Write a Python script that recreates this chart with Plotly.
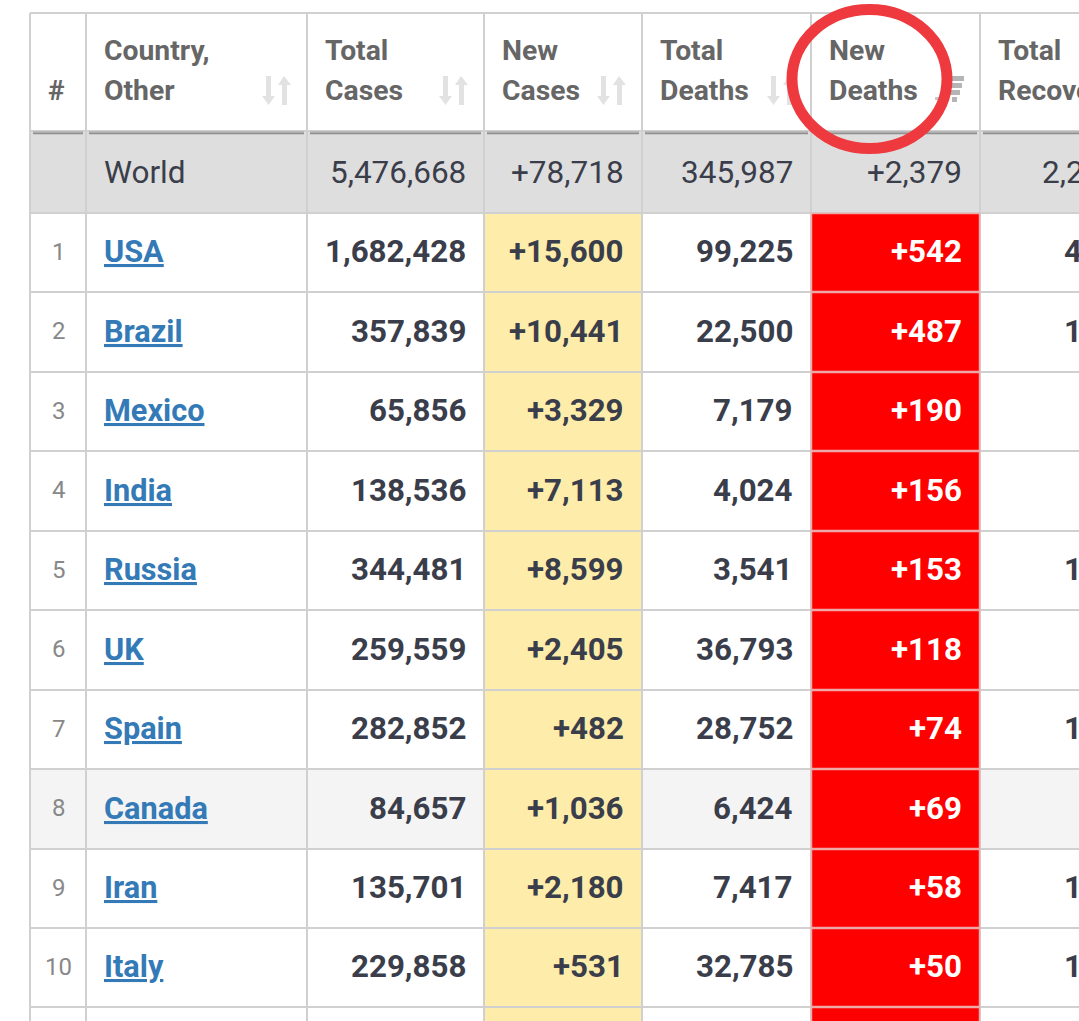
#!/usr/bin/env python
"""Coronavirus table screenshot: countries sorted by new deaths, with the column circled."""

import plotly.graph_objects as go

ranks = ["1", "2", "3", "4", "5", "6", "7", "8", "9", "10"]
countries = ["USA", "Brazil", "Mexico", "India", "Russia", "UK", "Spain", "Canada", "Iran", "Italy"]
total_cases = ["1,682,428", "357,839", "65,856", "138,536", "344,481",
               "259,559", "282,852", "84,657", "135,701", "229,858"]
new_cases = ["+15,600", "+10,441", "+3,329", "+7,113", "+8,599",
             "+2,405", "+482", "+1,036", "+2,180", "+531"]
total_deaths = ["99,225", "22,500", "7,179", "4,024", "3,541",
                "36,793", "28,752", "6,424", "7,417", "32,785"]
new_deaths = ["+542", "+487", "+190", "+156", "+153", "+118", "+74", "+69", "+58", "+50"]
# only the first characters of this column are inside the picture
total_recovered = ["4", "1", "", "", "1", "", "1", "", "1", "1"]

world = ["5,476,668", "+78,718", "345,987", "+2,379"]
world_recovered = "2,2"
headers = [["Country,", "Other"], ["Total", "Cases"], ["New", "Cases"],
           ["Total", "Deaths"], ["New", "Deaths"], ["Total", "Recovered"]]

W, H = 1079, 1021
FONT = "Roboto"
INK = "#3a3d4a"
GRID = "#d0d0d0"

col_x = [30, 86, 307, 484, 642, 811, 980, 1100]
row_y = [13, 131, 213, 292, 372, 451, 531, 610, 690, 769, 849, 928, 1007, 1040]
LEFT_PAD = 15.5
RIGHT_PAD = 16

fig = go.Figure()
shapes = []
notes = []


def rect(x0, y0, x1, y1, fill, line=None, width=0):
    shapes.append(dict(type="rect", x0=x0, y0=y0, x1=x1, y1=y1, fillcolor=fill,
                       line=dict(color=line or fill, width=width), layer="below"))


def hline(x0, x1, y, color=GRID, width=2):
    shapes.append(dict(type="line", x0=x0, x1=x1, y0=y, y1=y,
                       line=dict(color=color, width=width), layer="below"))


def vline(x, y0, y1, color=GRID, width=2):
    shapes.append(dict(type="line", x0=x, x1=x, y0=y0, y1=y1,
                       line=dict(color=color, width=width), layer="below"))


def note(x, y, text, anchor="right", size=31.3, color=INK):
    notes.append(dict(x=x, y=y, text=text, xanchor=anchor, yanchor="middle", showarrow=False,
                      font=dict(family=FONT, size=size, color=color)))


def sort_icon(x, y, color="#e2e2e2"):
    # down arrow then up arrow, x/y is the top left corner of the icon
    down = (f"M{x + 4},{y} L{x + 9},{y} L{x + 9},{y + 20} L{x + 13},{y + 20} L{x + 6.5},{y + 29} "
            f"L{x},{y + 20} L{x + 4},{y + 20} Z")
    up = (f"M{x + 22},{y} L{x + 29},{y + 9} L{x + 25},{y + 9} L{x + 25},{y + 29} L{x + 20},{y + 29} "
          f"L{x + 20},{y + 9} L{x + 16},{y + 9} Z")
    for path in (down, up):
        shapes.append(dict(type="path", path=path, fillcolor=color, line=dict(width=0), layer="below"))


# row backgrounds
rect(col_x[0], row_y[1], W + 20, row_y[2], "#dedede")
rect(col_x[0], row_y[9], W + 20, row_y[10], "#f4f4f4")

# grid
for y in row_y[:-1]:
    hline(col_x[0], W + 20, y)
for x in col_x[:-1]:
    vline(x, row_y[0], H + 10)

# highlighted columns
for top, bottom in zip(row_y[2:-1], row_y[3:]):
    rect(col_x[3] + 1, top + 1, col_x[4] - 1, bottom - 1, "#feedaa")
    rect(col_x[5] + 0.5, top + 0.5, col_x[6] - 0.5, bottom - 0.5, "#ff0000", "#efa8a8", 1.5)

# header shadow, broken at the column lines
for x0, x1 in zip(col_x[:-1], col_x[1:]):
    hline(x0 + 3, x1 - 3, row_y[1] + 1, "#b9b9b9", 2)
    hline(x0 + 3, x1 - 3, row_y[1] + 2.5, "#8f8f8f", 1.5)

# header text
HEAD = "#666666"
note(56, 90, "<b>#</b>", "center", 28, HEAD)
for x, lines in zip(col_x[1:], headers):
    note(x + LEFT_PAD, 50, f"<b>{lines[0]}</b>", "left", 28.3, HEAD)
    note(x + LEFT_PAD, 90, f"<b>{lines[1]}</b>", "left", 28.3, HEAD)
for x in (262, 439, 597, 767):
    sort_icon(x, 76)

# sort indicator of the active column
for i, (x0, x1) in enumerate([(944, 964), (944, 962), (944, 960), (952, 957)]):
    rect(x0, 76 + i * 7, x1, 81 + i * 7, "#b5b5b5")
rect(935, 97, 944, 100, "#c8c8c8")

# world row
note(col_x[1] + LEFT_PAD, 172, "World", "left", 31.5)
for x, value in zip(col_x[3:7], world):
    note(x - RIGHT_PAD, 172, value, size=31.5)
note(1040, 172, world_recovered, "left", 31.5)

# country rows
centers = [(a + b) / 2 - 0.7 for a, b in zip(row_y[2:], row_y[3:])]
for i, y in enumerate(centers[:10]):
    note(58.5, y, ranks[i], "center", 24, "#888888")
    note(col_x[1] + LEFT_PAD, y, f"<u><b>{countries[i]}</b></u>", "left", 30.7, "#337ab7")
    note(col_x[3] - RIGHT_PAD, y, f"<b>{total_cases[i]}</b>")
    note(col_x[4] - RIGHT_PAD, y, f"<b>{new_cases[i]}</b>")
    note(col_x[5] - RIGHT_PAD, y, f"<b>{total_deaths[i]}</b>")
    note(col_x[6] - RIGHT_PAD, y, f"<b>{new_deaths[i]}</b>", color="#ffffff")
    if total_recovered[i]:
        note(1062, y, f"<b>{total_recovered[i]}</b>", "left")

# hand drawn circle around the column name
shapes.append(dict(type="circle", x0=792, x1=947, y0=9.5, y1=148.5,
                   line=dict(color="#ee3a3f", width=11), layer="above"))

fig.update_layout(
    width=W, height=H, margin=dict(l=0, r=0, t=0, b=0), showlegend=False,
    plot_bgcolor="white", paper_bgcolor="white",
    xaxis=dict(range=[0, W], visible=False, fixedrange=True),
    yaxis=dict(range=[H, 0], visible=False, fixedrange=True),
    shapes=shapes, annotations=notes,
)
# the page's default body margin would push the table 8px down and right
fig.write_html("out.html", config=dict(displayModeBar=False),
               post_script="document.body.style.margin='0';document.body.style.overflow='hidden';")
